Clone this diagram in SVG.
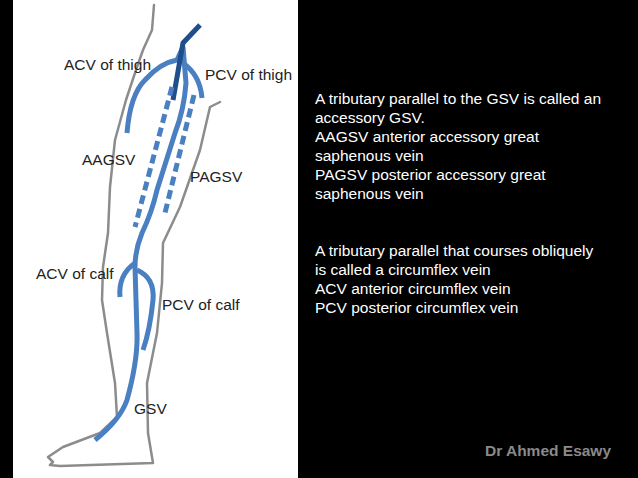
<svg xmlns="http://www.w3.org/2000/svg" width="638" height="478" viewBox="0 0 638 478">
<style>
.o{fill:none;stroke:#8c8c8c;stroke-width:2.5;stroke-linecap:round;stroke-linejoin:round}
.v{fill:none;stroke:#4a7fc1;stroke-width:5;stroke-linecap:butt}
.d{stroke-dasharray:9 5}
.l{font-family:"Liberation Sans",Arial,sans-serif;font-size:15.5px;fill:#222}
.t{font-family:"Liberation Sans",Arial,sans-serif;font-size:15.5px;fill:#fff}
</style>
<rect width="638" height="478" fill="#000"/>
<rect x="13" y="0" width="285" height="478" fill="#fff"/>
<g id="leg">
<path class="o" d="M154,5 L152,30 143,50 137,67 126,100 115,140 110,187 108,233 103,267 102,300 107,333 115,383 117,417 100,433 63,447 48,457 53,462 50,465 60,466 153,463 148,433 147,383 157,333 162,283 163,243 180,207 200,150 210,107 220,102"/>
</g>
<g id="connectors">
<path class="v" d="M95,440 Q120,420 127,400 Q138,360 137,333 L135,267 Q135,250 142,233 Q152,212 157,190 L175,133 Q184,110 186,83 L183,47"/>
<path class="v" d="M127,133 Q130,95 145,80 Q160,63 177,60 L183,47"/>
<path class="v" d="M183,63 Q200,75 202,98"/>
<path class="v" style="stroke:#1f4e8a" d="M200,25 L183,43 L173,100"/>
<path class="v d" d="M172,87 L135,227"/>
<path class="v d" d="M194,95 L164,217"/>
<path class="v" d="M120,297 Q118,275 135,263"/>
<path class="v" d="M137,270 Q155,278 153,300 Q150,330 143,350"/>
</g>
<g id="labels">
<text class="l" x="64" y="70">ACV of thigh</text>
<text class="l" x="205" y="80">PCV of thigh</text>
<text class="l" x="82" y="165">AAGSV</text>
<text class="l" x="190" y="182">PAGSV</text>
<text class="l" x="36" y="279">ACV of calf</text>
<text class="l" x="162" y="310">PCV of calf</text>
<text class="l" x="134" y="414">GSV</text>
</g>
<g id="notes">
<text class="t" x="315" y="104">A tributary parallel to the GSV is called an</text>
<text class="t" x="315" y="123">accessory GSV.</text>
<text class="t" x="315" y="142">AAGSV anterior accessory great</text>
<text class="t" x="315" y="161">saphenous vein</text>
<text class="t" x="315" y="180">PAGSV posterior accessory great</text>
<text class="t" x="315" y="199">saphenous vein</text>
<text class="t" x="315" y="256">A tributary parallel  that courses obliquely</text>
<text class="t" x="315" y="275">is called a circumflex vein</text>
<text class="t" x="315" y="294">ACV  anterior circumflex vein</text>
<text class="t" x="315" y="313">PCV  posterior circumflex vein</text>
<text x="485" y="456" style="font-family:'Liberation Sans',Arial,sans-serif;font-size:15.5px;font-weight:bold;fill:#8a8a8a">Dr Ahmed  Esawy</text>
</g>
</svg>
